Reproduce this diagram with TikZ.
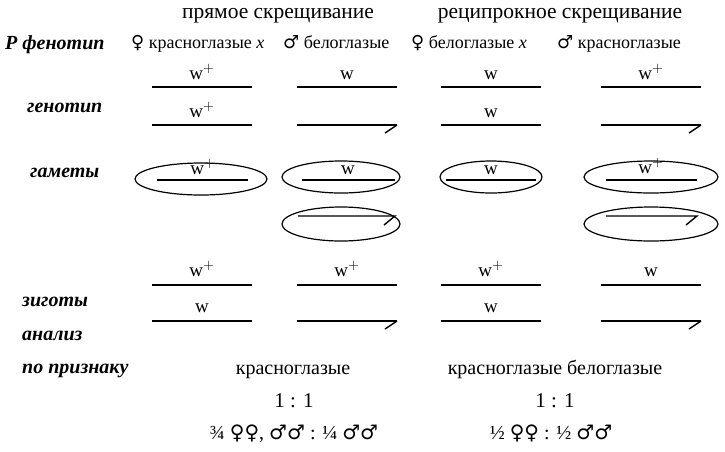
\documentclass[tikz,border=0pt]{standalone}
\usepackage{fontspec}
\setmainfont{Liberation Serif}
\newfontfamily\symf{DejaVu Sans}
\newcommand{\fem}{{\symf\char"2640}}
\newcommand{\mal}{{\symf\char"2642}}
\begin{document}
\begin{tikzpicture}[x=1pt,y=-1pt,
  txt/.style={inner sep=0pt,anchor=base,font=\fontsize{20}{22}\selectfont},
  lbl/.style={inner sep=0pt,font=\fontsize{20}{22}\selectfont\bfseries\itshape,anchor=base west},
  allele/.style={inner sep=0pt,anchor=base,font=\fontsize{19}{20}\selectfont},
  chrom/.style={line width=1.4pt},
  gam/.style={line width=1.2pt}]
\useasboundingbox (0,0) rectangle (725,451);
% headers
\node[txt,font=\fontsize{21.5}{22}\selectfont] (h1) at (278,18) {прямое скрещивание};
\node[txt,font=\fontsize{21.5}{22}\selectfont] (h2) at (560,18) {реципрокное скрещивание};
\node[lbl] (l1) at (5,49) {P фенотип};
\node[lbl] (l2) at (27,112) {генотип};
\node[lbl] (l3) at (30,177) {гаметы};
\node[lbl] (l4) at (22,306) {зиготы};
\node[lbl] (l5) at (22,340) {анализ};
\node[lbl] (l6) at (22,373) {по признаку};
\node[txt,anchor=base west,font=\fontsize{18}{20}\selectfont] (p1) at (131,48) {\fem{} красноглазые \textit{x}};
\node[txt,anchor=base west,font=\fontsize{18}{20}\selectfont] (p2) at (283,48) {\mal{} белоглазые};
\node[txt,anchor=base west,font=\fontsize{18}{20}\selectfont] (p3) at (411,48) {\fem{} белоглазые \textit{x}};
\node[txt,anchor=base west,font=\fontsize{18}{20}\selectfont] (p4) at (557,48) {\mal{} красноглазые};
% genotypes
\foreach \x/\a/\b/\h in {152/w$^+$/w$^+$/0, 297/w//1, 441/w/w/0, 601/w$^+$//1}{
  \draw[chrom] (\x,87) -- ++(100,0);
  \node[allele] at (\x+50,79) {\a};
  \draw[chrom] (\x,125) -- ++(100,0);
  \node[allele] at (\x+50,117) {\b};
  \ifnum\h=1 \draw[chrom] (\x+100,125) -- ++(-12,8); \fi
}
% gametes
\draw[gam] (201,179) ellipse (66 and 16);
\draw[chrom] (157,180) -- (248,180); \node[allele] at (203,174) {w$^+$};
\draw[gam] (341,177) ellipse (59 and 16);
\draw[chrom] (302,180) -- (395,180); \node[allele] at (348,174) {w};
\draw[gam] (341,224) ellipse (59 and 17);
\draw[chrom] (298,216) -- (395,216) -- (384,225);
\draw[gam] (491,177) ellipse (51 and 16);
\draw[chrom] (446,180) -- (536,180); \node[allele] at (491,174) {w};
\draw[gam] (651,177) ellipse (67 and 16);
\draw[chrom] (606,180) -- (697,180); \node[allele] at (651,173) {w$^+$};
\draw[gam] (651,224) ellipse (67 and 17);
\draw[chrom] (606,216) -- (697,216) -- (686,225);
% zygotes
\foreach \x/\a/\b/\h in {152/w$^+$/w/0, 297/w$^+$//1, 441/w$^+$/w/0, 601/w//1}{
  \draw[chrom] (\x,285) -- ++(100,0);
  \node[allele] at (\x+50,276) {\a};
  \draw[chrom] (\x,321) -- ++(100,0);
  \node[allele] at (\x+50,312) {\b};
  \ifnum\h=1 \draw[chrom] (\x+100,321) -- ++(-12,8); \fi
}
% results
\node[txt] (r1) at (293,374) {красноглазые};
\node[txt] (r2) at (555,374) {красноглазые белоглазые};
\node[txt,font=\fontsize{21}{22}\selectfont] (q1) at (294,407) {1 : 1};
\node[txt,font=\fontsize{21}{22}\selectfont] (q2) at (555,407) {1 : 1};
\node[txt] (f1) at (294,439) {¾ \fem\fem, \mal\mal{} : ¼ \mal\mal};
\node[txt] (f2) at (551,439) {½ \fem\fem{} : ½ \mal\mal};
\end{tikzpicture}
\end{document}
